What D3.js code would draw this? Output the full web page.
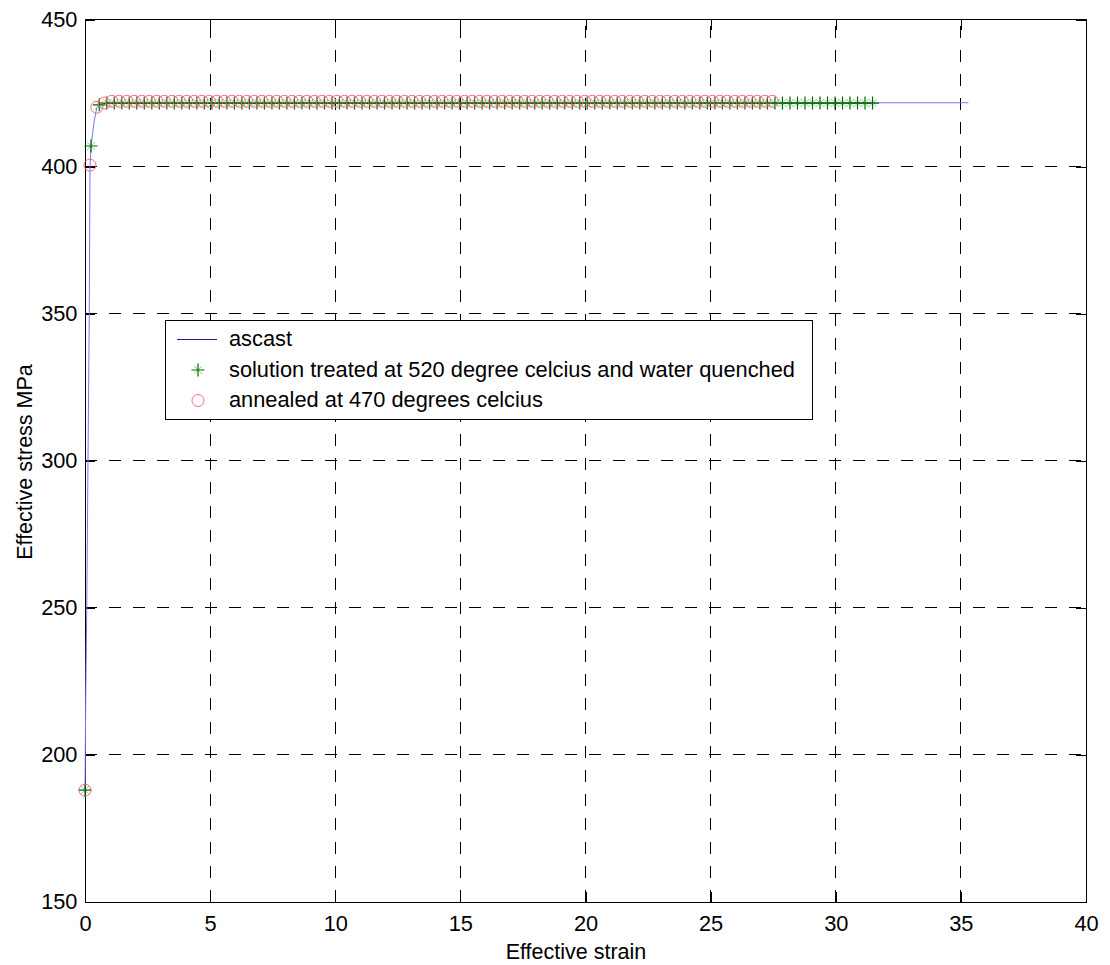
<!DOCTYPE html>
<html>
<head>
<meta charset="utf-8">
<title>Effective stress vs effective strain</title>
<script src="https://d3js.org/d3.v7.min.js"></script>
<style>
  body { margin: 0; background: #fff; }
  text { font-family: "Liberation Sans", Arial, Helvetica, sans-serif; }
</style>
</head>
<body>
<div id="chart"></div>
<script>
// values
var ascastStrain = [0, 0.03, 0.07, 0.12, 0.17, 0.2, 0.24, 0.3, 0.36, 0.47, 0.6, 0.9, 1.5, 35.3];
var ascastStress = [188, 220, 250, 300, 350, 400, 407, 411, 415, 420, 421, 421.6, 421.7, 421.7];

var treatedStrain = [0, 0.24,
  0.57, 0.87, 1.17, 1.47, 1.77, 2.07, 2.37, 2.67, 2.97, 3.27,
  3.57, 3.87, 4.17, 4.47, 4.77, 5.07, 5.37, 5.67, 5.97, 6.27,
  6.57, 6.87, 7.17, 7.47, 7.77, 8.07, 8.37, 8.67, 8.97, 9.27,
  9.57, 9.87, 10.17, 10.47, 10.77, 11.07, 11.37, 11.67, 11.97, 12.27,
  12.57, 12.87, 13.17, 13.47, 13.77, 14.07, 14.37, 14.67, 14.97, 15.27,
  15.57, 15.87, 16.17, 16.47, 16.77, 17.07, 17.37, 17.67, 17.97, 18.27,
  18.57, 18.87, 19.17, 19.47, 19.77, 20.07, 20.37, 20.67, 20.97, 21.27,
  21.57, 21.87, 22.17, 22.47, 22.77, 23.07, 23.37, 23.67, 23.97, 24.27,
  24.57, 24.87, 25.17, 25.47, 25.77, 26.07, 26.37, 26.67, 26.97, 27.27,
  27.57, 27.87, 28.17, 28.47, 28.77, 29.07, 29.37, 29.67, 29.97, 30.27,
  30.57, 30.87, 31.17, 31.47];
var treatedStress = [188, 407,
  421, 421.6, 421.6, 421.6, 421.6, 421.6, 421.6, 421.6, 421.6, 421.6,
  421.6, 421.6, 421.6, 421.6, 421.6, 421.6, 421.6, 421.6, 421.6, 421.6,
  421.6, 421.6, 421.6, 421.6, 421.6, 421.6, 421.6, 421.6, 421.6, 421.6,
  421.6, 421.6, 421.6, 421.6, 421.6, 421.6, 421.6, 421.6, 421.6, 421.6,
  421.6, 421.6, 421.6, 421.6, 421.6, 421.6, 421.6, 421.6, 421.6, 421.6,
  421.6, 421.6, 421.6, 421.6, 421.6, 421.6, 421.6, 421.6, 421.6, 421.6,
  421.6, 421.6, 421.6, 421.6, 421.6, 421.6, 421.6, 421.6, 421.6, 421.6,
  421.6, 421.6, 421.6, 421.6, 421.6, 421.6, 421.6, 421.6, 421.6, 421.6,
  421.6, 421.6, 421.6, 421.6, 421.6, 421.6, 421.6, 421.6, 421.6, 421.6,
  421.6, 421.6, 421.6, 421.6, 421.6, 421.6, 421.6, 421.6, 421.6, 421.6,
  421.6, 421.6, 421.6, 421.6];

var annealedStrain = [0, 0.2,
  0.47, 0.77, 1.07, 1.37, 1.67, 1.97, 2.27, 2.57, 2.87, 3.17,
  3.47, 3.77, 4.07, 4.37, 4.67, 4.97, 5.27, 5.57, 5.87, 6.17,
  6.47, 6.77, 7.07, 7.37, 7.67, 7.97, 8.27, 8.57, 8.87, 9.17,
  9.47, 9.77, 10.07, 10.37, 10.67, 10.97, 11.27, 11.57, 11.87, 12.17,
  12.47, 12.77, 13.07, 13.37, 13.67, 13.97, 14.27, 14.57, 14.87, 15.17,
  15.47, 15.77, 16.07, 16.37, 16.67, 16.97, 17.27, 17.57, 17.87, 18.17,
  18.47, 18.77, 19.07, 19.37, 19.67, 19.97, 20.27, 20.57, 20.87, 21.17,
  21.47, 21.77, 22.07, 22.37, 22.67, 22.97, 23.27, 23.57, 23.87, 24.17,
  24.47, 24.77, 25.07, 25.37, 25.67, 25.97, 26.27, 26.57, 26.87, 27.17,
  27.47];
var annealedStress = [188, 400.5,
  420.2, 421.6, 422.2, 422.2, 422.2, 422.2, 422.2, 422.2, 422.2, 422.2,
  422.2, 422.2, 422.2, 422.2, 422.2, 422.2, 422.2, 422.2, 422.2, 422.2,
  422.2, 422.2, 422.2, 422.2, 422.2, 422.2, 422.2, 422.2, 422.2, 422.2,
  422.2, 422.2, 422.2, 422.2, 422.2, 422.2, 422.2, 422.2, 422.2, 422.2,
  422.2, 422.2, 422.2, 422.2, 422.2, 422.2, 422.2, 422.2, 422.2, 422.2,
  422.2, 422.2, 422.2, 422.2, 422.2, 422.2, 422.2, 422.2, 422.2, 422.2,
  422.2, 422.2, 422.2, 422.2, 422.2, 422.2, 422.2, 422.2, 422.2, 422.2,
  422.2, 422.2, 422.2, 422.2, 422.2, 422.2, 422.2, 422.2, 422.2, 422.2,
  422.2, 422.2, 422.2, 422.2, 422.2, 422.2, 422.2, 422.2, 422.2, 422.2,
  422.2];

var xTicks = [0, 5, 10, 15, 20, 25, 30, 35, 40];
var yTicks = [150, 200, 250, 300, 350, 400, 450];
var legendLabels = ["ascast",
  "solution treated at 520 degree celcius and water quenched",
  "annealed at 470 degrees celcius"];

var margin = {top: 19.5, right: 24, bottom: 63, left: 85},
    width = 1110 - margin.left - margin.right,
    height = 965 - margin.top - margin.bottom;

var svg = d3.select("#chart")
  .append("svg")
    .attr("width", 1110)
    .attr("height", 965)
  .append("g")
    .attr("transform", "translate(" + margin.left + "," + margin.top + ")");

var x = d3.scaleLinear().domain([0, 40]).range([0, width]);
var y = d3.scaleLinear().domain([150, 450]).range([height, 0]);

// dashed grid
svg.append("g").selectAll("line")
  .data(xTicks)
  .enter().append("line")
    .attr("x1", function(d) { return x(d); })
    .attr("x2", function(d) { return x(d); })
    .attr("y1", height)
    .attr("y2", 0)
    .attr("stroke", "#000")
    .attr("stroke-dasharray", "12,12")
    .attr("shape-rendering", "crispEdges");
svg.append("g").selectAll("line")
  .data(yTicks)
  .enter().append("line")
    .attr("x1", 0)
    .attr("x2", width)
    .attr("y1", function(d) { return y(d); })
    .attr("y2", function(d) { return y(d); })
    .attr("stroke", "#000")
    .attr("stroke-dasharray", "12,12")
    .attr("shape-rendering", "crispEdges");

// axes, ticks pointing inwards on all four sides
function styleAxis(g) {
  g.select(".domain").remove();
  g.selectAll(".tick line").attr("stroke", "#000").attr("shape-rendering", "crispEdges");
  g.attr("font-size", 21.8).attr("font-family", "Liberation Sans, Arial, sans-serif");
  g.selectAll("text").attr("fill", "#000");
}
svg.append("g")
  .attr("transform", "translate(0," + height + ")")
  .call(d3.axisBottom(x).tickValues(xTicks).tickSizeInner(-10).tickSizeOuter(0).tickPadding(14))
  .call(styleAxis);
svg.append("g")
  .call(d3.axisTop(x).tickValues(xTicks).tickSizeInner(-10).tickSizeOuter(0).tickFormat(""))
  .call(styleAxis);
svg.append("g")
  .call(d3.axisLeft(y).tickValues(yTicks).tickSizeInner(-10).tickSizeOuter(0).tickPadding(7.5))
  .call(styleAxis);
svg.append("g")
  .attr("transform", "translate(" + width + ",0)")
  .call(d3.axisRight(y).tickValues(yTicks).tickSizeInner(-10).tickSizeOuter(0).tickFormat(""))
  .call(styleAxis);

svg.append("rect")
  .attr("width", width)
  .attr("height", height)
  .attr("fill", "none")
  .attr("stroke", "#000")
  .attr("shape-rendering", "crispEdges");

// ascast curve
var line = d3.line()
  .x(function(d) { return x(d[0]); })
  .y(function(d) { return y(d[1]); });
svg.append("path")
  .datum(d3.zip(ascastStrain, ascastStress))
  .attr("d", line)
  .attr("fill", "none")
  .attr("stroke", "#7878ee")
  .attr("stroke-width", 1);

// solution treated: asterisk markers
function asterisk(g) {
  g.append("path").attr("d", "M-4,-4L4,4M-4,4L4,-4")
    .attr("stroke", "#8cc88c").attr("stroke-width", 0.9);
  g.append("path").attr("d", "M-6.5,0H6.5M0,-6.5V6.5")
    .attr("stroke", "#006a00").attr("stroke-width", 1.2);
}
svg.append("g").selectAll("g")
  .data(d3.zip(treatedStrain, treatedStress))
  .enter().append("g")
    .attr("transform", function(d) { return "translate(" + x(d[0]) + "," + y(d[1]) + ")"; })
    .each(function() { asterisk(d3.select(this)); });

// annealed: circle markers
svg.append("g").selectAll("circle")
  .data(d3.zip(annealedStrain, annealedStress))
  .enter().append("circle")
    .attr("cx", function(d) { return x(d[0]); })
    .attr("cy", function(d) { return y(d[1]); })
    .attr("r", 6)
    .attr("fill", "none")
    .attr("stroke", "#f0606e")
    .attr("stroke-width", 0.9);

// legend
var legend = svg.append("g").attr("transform", "translate(" + (165 - margin.left) + "," + (320.5 - margin.top) + ")");
legend.append("rect")
  .attr("width", 647)
  .attr("height", 99)
  .attr("fill", "#fff")
  .attr("stroke", "#000")
  .attr("shape-rendering", "crispEdges");
legend.selectAll("text")
  .data(legendLabels)
  .enter().append("text")
    .attr("x", 64)
    .attr("y", function(d, i) { return 25.5 + i * 30.5; })
    .attr("font-size", 21.8)
    .attr("fill", "#000")
    .text(function(d) { return d; });
legend.append("line")
  .attr("x1", 12).attr("x2", 52)
  .attr("y1", 19).attr("y2", 19)
  .attr("stroke", "#1a1aa0")
  .attr("stroke-width", 1);
legend.append("g")
  .attr("transform", "translate(33,49.5)")
  .call(asterisk);
legend.append("circle")
  .attr("cx", 33).attr("cy", 80)
  .attr("r", 6)
  .attr("fill", "none")
  .attr("stroke", "#f0606e")
  .attr("stroke-width", 0.9);

// axis titles
svg.append("text")
  .attr("x", 576 - margin.left)
  .attr("y", 959 - margin.top)
  .attr("text-anchor", "middle")
  .attr("font-size", 21.5)
  .attr("fill", "#000")
  .text("Effective strain");
svg.append("text")
  .attr("transform", "translate(" + (32 - margin.left) + "," + (462 - margin.top) + ") rotate(-90)")
  .attr("text-anchor", "middle")
  .attr("font-size", 21.5)
  .attr("fill", "#000")
  .text("Effective stress MPa");
</script>
</body>
</html>
